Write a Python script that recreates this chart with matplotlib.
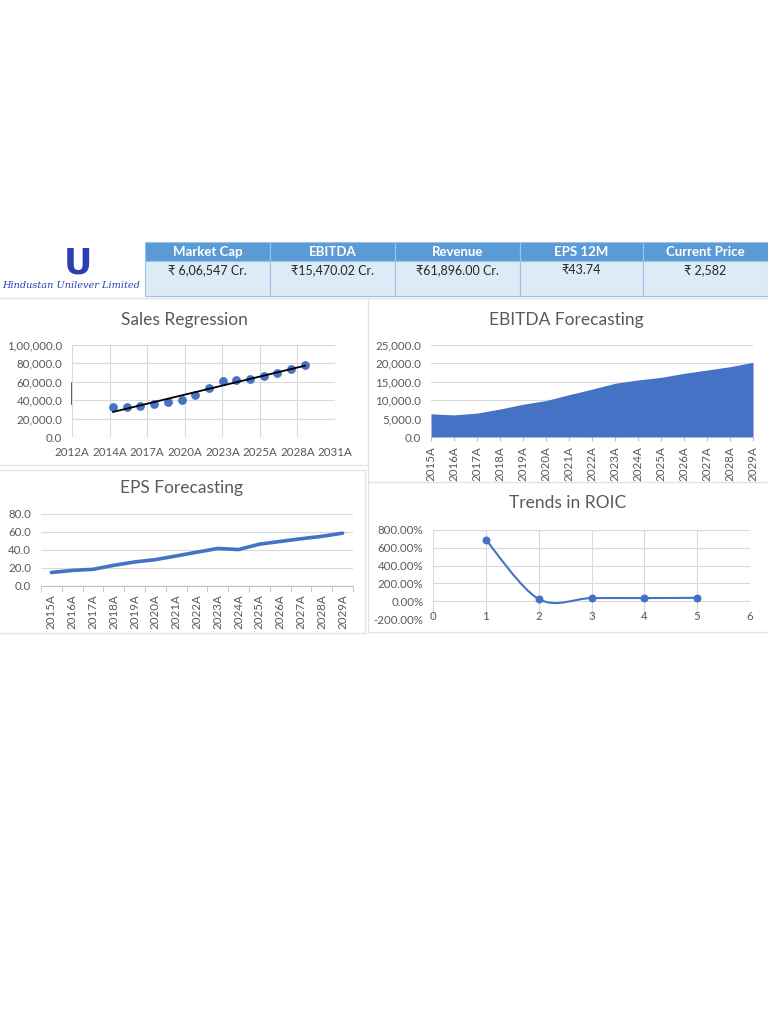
import numpy as np
import matplotlib
matplotlib.use("Agg")
import matplotlib.pyplot as plt
from matplotlib.patches import Rectangle, PathPatch
from matplotlib.path import Path

plt.rcParams['font.family'] = ['Lato', 'DejaVu Sans']

# ---------------- data ----------------
kpi_names = ['Market Cap', 'EBITDA', 'Revenue', 'EPS 12M', 'Current Price']
kpi_values = ['₹ 6,06,547 Cr.', '₹15,470.02 Cr.', '₹61,896.00 Cr.', '₹43.74', '₹ 2,582']

sales_years = [2015, 2016, 2017, 2018, 2019, 2020, 2021, 2022,
               2023, 2024, 2025, 2026, 2027, 2028, 2029]
sales_values = [32500, 32500, 33500, 35500, 38500, 40000, 46000, 53000,
                60500, 62000, 63500, 66500, 70000, 73500, 78000]
sales_xticklabels = ['2012A', '2014A', '2017A', '2020A', '2023A', '2025A', '2028A', '2031A']
sales_yticklabels = ['0.0', '20,000.0', '40,000.0', '60,000.0', '80,000.0', '1,00,000.0']

fc_labels = ['2015A', '2016A', '2017A', '2018A', '2019A', '2020A', '2021A', '2022A',
             '2023A', '2024A', '2025A', '2026A', '2027A', '2028A', '2029A']
ebitda_values = [6300, 6000, 6500, 7600, 8900, 9900, 11500, 13000,
                 14600, 15500, 16200, 17300, 18200, 19100, 20300]
ebitda_yticklabels = ['0.0', '5,000.0', '10,000.0', '15,000.0', '20,000.0', '25,000.0']

eps_values = [15.0, 17.3, 18.5, 23.0, 26.7, 29.3, 33.4, 37.6,
              41.7, 40.5, 46.5, 49.5, 52.5, 55.2, 58.7]
eps_yticklabels = ['0.0', '20.0', '40.0', '60.0', '80.0']

roic_x = [1, 2, 3, 4, 5]
roic_values = [690, 25, 35, 35, 38]
roic_yticklabels = ['-200.00%', '0.00%', '200.00%', '400.00%', '600.00%', '800.00%']

BLUE = '#4472C4'
GRID = '#D9D9D9'
TXT = '#595959'

W, H = 768, 1024
fig = plt.figure(figsize=(W / 100, H / 100), dpi=100)


def box(x0, y0, x1, y1):
    # pixel box -> figure fraction rect
    return [x0 / W, 1 - y1 / H, (x1 - x0) / W, (y1 - y0) / H]


# overlay for table, logo, panel borders
bg = fig.add_axes([0, 0, 1, 1])
bg.set_xlim(0, W)
bg.set_ylim(H, 0)
bg.axis('off')

col_edges = [145, 270, 395, 520, 643, 768]
for i, (name, val) in enumerate(zip(kpi_names, kpi_values)):
    x0, x1 = col_edges[i], col_edges[i + 1]
    bg.add_patch(Rectangle((x0, 242), x1 - x0, 19, facecolor='#5B9BD5',
                           edgecolor='#9BC2E6', lw=0.8))
    bg.add_patch(Rectangle((x0, 261), x1 - x0, 35, facecolor='#DDEBF7',
                           edgecolor='#9BC2E6', lw=0.8))
    bg.text((x0 + x1) / 2, 252, name, ha='center', va='center', color='white',
            fontsize=9.5, fontweight='bold')
    bg.text((x0 + x1) / 2, 270, val, ha='center', va='center', color='#262626',
            fontsize=9, family=['Lato', 'DejaVu Sans'])

# logo
bg.text(78, 263, 'U', ha='center', va='center', color='#2B3FB0', fontsize=25,
        fontweight='bold', family='DejaVu Sans')
bg.text(71, 285, 'Hindustan Unilever Limited', ha='center', va='center',
        color='#2B3FB0', fontsize=7, style='italic', family='DejaVu Serif')

# panel borders
for xs, ys in [([0, 368], [298, 298]), ([368, 768], [298, 298]),
               ([368, 368], [298, 632]), ([0, 368], [465, 465]),
               ([0, 365], [470, 470]), ([365, 365], [470, 633]),
               ([0, 365], [633, 633]), ([368, 768], [482, 482]),
               ([368, 768], [632, 632])]:
    bg.plot(xs, ys, color='#E3E3E3', lw=1)
bg.plot([72, 72], [383, 404], color='#404040', lw=1.2)


def style(ax):
    for s in ax.spines.values():
        s.set_visible(False)
    ax.tick_params(labelsize=8.3, colors=TXT, length=0)
    ax.tick_params(axis='y', pad=7)
    ax.set_axisbelow(True)


# ---------------- Sales Regression ----------------
ax1 = fig.add_axes(box(72, 345, 335, 437))
style(ax1)
ax1.set_xlim(2012, 2031.2)
ax1.set_ylim(0, 100000)
ax1.set_xticks(np.linspace(2012, 2031.2, len(sales_xticklabels)))
ax1.set_xticklabels(sales_xticklabels)
ax1.tick_params(axis='x', pad=7)
ax1.set_yticks(np.arange(0, 100001, 20000))
ax1.set_yticklabels(sales_yticklabels)
ax1.grid(True, color=GRID, lw=0.8)
ax1.scatter(sales_years, sales_values, s=28, color=BLUE, zorder=3)
coef = np.polyfit(sales_years, sales_values, 1)
fit_x = np.array([sales_years[0], sales_years[-1]])
ax1.plot(fit_x, np.polyval(coef, fit_x), color='black', lw=1.3, zorder=4)
fig.text(184 / W, 1 - 320 / H, 'Sales Regression', ha='center', va='center',
         fontsize=12.5, color=TXT)

# ---------------- EBITDA Forecasting ----------------
ax2 = fig.add_axes(box(431, 345, 753, 437))
style(ax2)
xi = np.arange(len(fc_labels))
ax2.fill_between(xi, ebitda_values, color=BLUE, lw=0)
ax2.set_xlim(0, len(fc_labels) - 1)
ax2.set_ylim(0, 25000)
ax2.set_xticks(xi)
ax2.set_xticklabels(fc_labels, rotation=90)
ax2.set_yticks(np.arange(0, 25001, 5000))
ax2.set_yticklabels(ebitda_yticklabels)
ax2.yaxis.grid(True, color=GRID, lw=0.8)
ax2.tick_params(axis='x', length=3, color='#BFBFBF')
fig.text(566 / W, 1 - 320 / H, 'EBITDA Forecasting', ha='center', va='center',
         fontsize=12.5, color=TXT)

# ---------------- EPS Forecasting ----------------
ax3 = fig.add_axes(box(41, 514, 353, 586))
style(ax3)
ax3.plot(xi, eps_values, color=BLUE, lw=2.6, solid_capstyle='round')
ax3.set_xlim(-0.5, len(fc_labels) - 0.5)
ax3.set_ylim(0, 80)
ax3.set_xticks(xi)
ax3.set_xticklabels(fc_labels, rotation=90)
ax3.tick_params(axis='x', pad=6)
ax3.set_xticks(np.arange(-0.5, len(fc_labels)), minor=True)
ax3.tick_params(axis='x', which='minor', length=4, color='#BFBFBF')
ax3.set_yticks(np.arange(0, 81, 20))
ax3.set_yticklabels(eps_yticklabels)
ax3.yaxis.grid(True, color=GRID, lw=0.8)
ax3.spines['bottom'].set_visible(True)
ax3.spines['bottom'].set_color('#BFBFBF')
fig.text(182 / W, 1 - 488 / H, 'EPS Forecasting', ha='center', va='center',
         fontsize=12.5, color=TXT)

# ---------------- Trends in ROIC ----------------
ax4 = fig.add_axes(box(433, 530, 750, 619))
style(ax4)
ax4.set_xlim(0, 6)
ax4.set_ylim(-200, 800)
ax4.set_xticks(range(0, 7))
ax4.tick_params(axis='x', pad=-6)
ax4.set_yticks(np.arange(-200, 801, 200))
ax4.set_yticklabels(roic_yticklabels)
ax4.grid(True, color=GRID, lw=0.8)
# smoothed line through the points (cubic bezier segments)
px = np.array(roic_x, dtype=float)
py = np.array(roic_values, dtype=float)
verts = [(px[0], py[0])]
codes = [Path.MOVETO]
n = len(px)
for k in range(n - 1):
    p0 = (px[max(k - 1, 0)], py[max(k - 1, 0)])
    p1 = (px[k], py[k])
    p2 = (px[k + 1], py[k + 1])
    p3 = (px[min(k + 2, n - 1)], py[min(k + 2, n - 1)])
    c1 = (p1[0] + (p2[0] - p0[0]) / 6, p1[1] + (p2[1] - p0[1]) / 6)
    c2 = (p2[0] - (p3[0] - p1[0]) / 6, p2[1] - (p3[1] - p1[1]) / 6)
    verts += [c1, c2, p2]
    codes += [Path.CURVE4] * 3
ax4.add_patch(PathPatch(Path(verts, codes), facecolor='none', edgecolor=BLUE, lw=1.5))
ax4.scatter(roic_x, roic_values, s=22, color=BLUE, zorder=3)
fig.text(568 / W, 1 - 503 / H, 'Trends in ROIC', ha='center', va='center',
         fontsize=12.5, color=TXT)

fig.savefig('out.png', dpi=100, facecolor='white')
